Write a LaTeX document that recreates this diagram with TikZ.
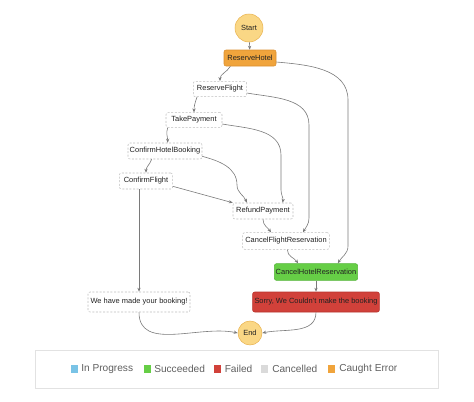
\documentclass[tikz,border=0pt]{standalone}
\usepackage{fontspec}
\setmainfont{Liberation Sans}
\usetikzlibrary{arrows.meta, calc}
\definecolor{awsorange}{HTML}{F0A43C}
\definecolor{awsorangeline}{HTML}{DB8F2E}
\definecolor{awsyellow}{HTML}{FAD785}
\definecolor{awsyellowline}{HTML}{E9B452}
\definecolor{awsgreen}{HTML}{66CE46}
\definecolor{awsgreenline}{HTML}{55B538}
\definecolor{awsred}{HTML}{D1413A}
\definecolor{awsredline}{HTML}{B6332C}
\definecolor{awsblue}{HTML}{79C3E6}
\definecolor{awsgray}{HTML}{DADADA}
\definecolor{dashline}{HTML}{BDBDBD}
\definecolor{edgegray}{HTML}{7A7A7A}
\definecolor{textdark}{HTML}{222222}
\definecolor{legendtext}{HTML}{5F5F5F}
\definecolor{legendline}{HTML}{E2E2E2}

\begin{document}
\begin{tikzpicture}[x=0.75pt, y=-0.75pt, font=\fontsize{5.6}{6.5}\selectfont, text=textdark,
  state/.style={draw=dashline, dashed, dash pattern=on 1.5pt off 1.2pt, fill=white, rounded corners=1.5pt, minimum height=12pt, inner sep=1pt},
  caught/.style={draw=awsorangeline, fill=awsorange, rounded corners=1.5pt, minimum height=12pt, inner sep=1pt},
  succeeded/.style={draw=awsgreenline, fill=awsgreen, rounded corners=1.5pt, minimum height=12.5pt, inner sep=1pt},
  failed/.style={draw=awsredline, fill=awsred, rounded corners=1.5pt, minimum height=15pt, inner sep=1pt},
  terminal/.style={circle, draw=awsyellowline, fill=awsyellow, inner sep=0pt},
  edge/.style={edgegray, line width=0.45pt, -{Stealth[length=3pt, width=2.4pt]}},
  legendsq/.style={minimum size=5.5pt, inner sep=0pt},
  legendlabel/.style={anchor=west, text=legendtext, font=\fontsize{7.6}{9}\selectfont, inner sep=0pt}]
  \useasboundingbox (0,0) rectangle (474,401);

  % states
  \node[terminal, minimum size=21pt] (start) at (249,28) {Start};
  \node[caught, minimum width=39pt] (rh) at (250,58) {ReserveHotel};
  \node[state, minimum width=40pt, minimum height=11.5pt] (rf) at (220,89) {ReserveFlight};
  \node[state, minimum width=42pt, minimum height=11pt] (tp) at (194,120) {TakePayment};
  \node[state, minimum width=55.5pt] (chb) at (165,151) {ConfirmHotelBooking};
  \node[state, minimum width=40pt] (cf) at (146,181) {ConfirmFlight};
  \node[state, minimum width=45pt] (rp) at (263,211) {RefundPayment};
  \node[state, minimum width=65pt, minimum height=12.5pt] (cfr) at (286,241) {CancelFlightReservation};
  \node[succeeded, minimum width=62pt] (chr) at (316,272) {CancelHotelReservation};
  \node[failed, minimum width=95pt] (sorry) at (316,302) {Sorry, We Couldn't make the booking};
  \node[state, minimum width=76.5pt, minimum height=15pt] (wh) at (139,302) {We have made your booking!};
  \node[terminal, minimum size=18pt] (end) at (250,333) {End};

  % bends of the long catch paths
  \coordinate (rhbend1) at (348,100);
  \coordinate (rhbend2) at (348,246);
  \coordinate (rfbend1) at (309,125);
  \coordinate (rfbend2) at (309,218);
  \coordinate (tpbend1) at (281,155);
  \coordinate (tpbend2) at (281,190);
  \coordinate (chbbend) at (237,185);

  % main path
  \draw[edge] (start) -- (rh);
  \draw[edge] ([xshift=5pt]rh.south west) to[out=-120, in=90] (rf.north);
  \draw[edge] ([xshift=3pt]rf.south west) to[out=-110, in=90] (tp.north);
  \draw[edge] ([xshift=30pt]chb.north west |- tp.south) to[out=-110, in=90] ([xshift=2pt]chb.north);
  \draw[edge] ([xshift=-10pt]chb.south) to[out=-110, in=90] (cf.north);
  \draw[edge] (wh.north |- cf.south) -- (wh.north);
  \draw[edge] (wh.south) to[out=-90, in=168] (end.west);

  % catch paths
  \draw[edge] ([yshift=-3pt]rh.east) to[out=-5, in=90] (rhbend1) -- (rhbend2) to[out=-90, in=60] ([xshift=-15pt]chr.north east);
  \draw[edge] ([yshift=-3pt]rf.east) to[out=-10, in=90] (rfbend1) -- (rfbend2) to[out=-90, in=60] ([xshift=-20pt]cfr.north east);
  \draw[edge] ([yshift=-3pt]tp.east) to[out=-10, in=90] (tpbend1) -- (tpbend2) to[out=-90, in=80] ([xshift=-8pt]rp.north east);
  \draw[edge] ([yshift=-4pt]chb.east) to[out=-15, in=90] (chbbend) to[out=-90, in=110] ([xshift=10.5pt]rp.north west);
  \draw[edge] ([yshift=-4pt]cf.east) -- (rp.north west);
  \draw[edge] (rp.south) to[out=-90, in=125] ([xshift=21.5pt]cfr.north west);
  \draw[edge] ([xshift=1pt]cfr.south) to[out=-90, in=125] ([xshift=18pt]chr.north west);
  \draw[edge] (chr.south) -- (sorry.north);
  \draw[edge] (sorry.south) to[out=-90, in=12] (end.east);

  % legend
  \draw[legendline, line width=0.6pt] (35,350) rectangle (438,388);
  \node[legendsq, fill=awsblue] (sqprog) at (74.5,369) {};
  \node[legendlabel] (lprog) at (81,369) {In Progress};
  \node[legendsq, fill=awsgreen] (sqsucc) at (147.5,369) {};
  \node[legendlabel] (lsucc) at (154,369) {Succeeded};
  \node[legendsq, fill=awsred] (sqfail) at (217.5,369) {};
  \node[legendlabel] (lfail) at (224.5,369) {Failed};
  \node[legendsq, fill=awsgray] (sqcanc) at (264.5,369) {};
  \node[legendlabel] (lcanc) at (272,369) {Cancelled};
  \node[legendsq, fill=awsorange] (sqerr) at (331.5,369) {};
  \node[legendlabel] (lerr) at (339,369) {Caught Error};
\end{tikzpicture}
\end{document}
